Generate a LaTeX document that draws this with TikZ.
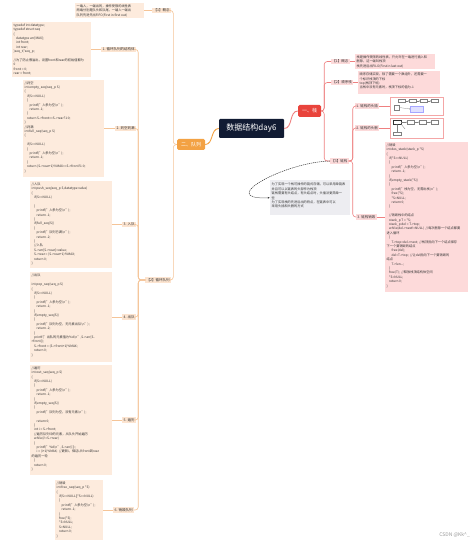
\documentclass[tikz,border=0pt]{standalone}
\usepackage{fontspec}
\setmainfont{Noto Sans CJK SC}
\usetikzlibrary{arrows.meta}
\definecolor{navy}{HTML}{111B33}
\definecolor{qorange}{HTML}{F3A244}
\definecolor{qline}{HTML}{F5C497}
\definecolor{qfill}{HTML}{FDEBDD}
\definecolor{qlabc}{HTML}{FCE4D0}
\definecolor{sred}{HTML}{E9443C}
\definecolor{sline}{HTML}{EF8080}
\definecolor{sfill}{HTML}{FDDADA}
\definecolor{slabc}{HTML}{FCDADA}
\definecolor{gnote}{HTML}{EDEDF1}
\definecolor{txt}{HTML}{333333}
\newcommand\cnl{\textbackslash n}
\newcommand\cia{\hspace*{2.5pt}}
\newcommand\cib{\hspace*{5pt}}
\tikzset{
  lab/.style={font=\fontsize{3.5}{4}\selectfont, text=txt, inner xsep=1.2pt, inner ysep=1pt},
  qlabel/.style={lab, fill=qlabc},
  slabel/.style={lab, fill=slabc},
  boxbase/.style={anchor=north west, inner sep=0pt},
  qbox/.style={boxbase, fill=qfill},
  sbox/.style={boxbase, fill=sfill},
  gbox/.style={boxbase, fill=gnote},
  imgbox/.style={boxbase, draw=sline!70, fill=white, line width=0.4pt},
  codetext/.style={anchor=north west, inner sep=0pt, align=left, text=txt, font=\fontsize{3.2}{4.4}\selectfont},
  qconn/.style={draw=qline, line width=0.6pt, rounded corners=3pt},
  sconn/.style={draw=sline, line width=0.6pt, rounded corners=3pt},
  qstraight/.style={draw=qline, line width=0.5pt},
  sstraight/.style={draw=sline, line width=0.5pt},
  centerbox/.style={fill=navy, text=white, font=\fontsize{8}{9}\selectfont, minimum width=65, minimum height=19, inner sep=0pt, rounded corners=1pt},
  mainbox/.style={text=white, font=\fontsize{5}{6}\selectfont, inner sep=0pt, rounded corners=1.5pt},
  pic/.style={line width=0.3pt, draw=gray},
  picarrow/.style={-{Stealth[length=1pt,width=1pt]}, line width=0.25pt, draw=gray}
}
\begin{document}
\begin{tikzpicture}[x=1pt,y=-1pt]
\fill[white] (0,0) rectangle (474,545);
\useasboundingbox (0,0) rectangle (474,545);

% ---------- main nodes ----------
\node[centerbox] (center) at (251.5,128.5) {数据结构day6};
\node[mainbox, fill=sred, minimum width=23, minimum height=12] (stack) at (309.5,111) {一、栈};
\node[mainbox, fill=qorange, minimum width=28, minimum height=11] (queue) at (191,144.5) {二、队列};

\draw[draw=sline, line width=0.9pt] (center.east) to[out=0,in=180] (stack.west);
\draw[draw=qorange, line width=0.9pt] (center.west) to[out=180,in=0] (queue.east);

% ---------- right side: stack ----------
\node[slabel, anchor=west] (s1) at (331,61.5) {【1】概念};
\node[slabel, anchor=west] (s2) at (331,82.5) {【2】顺序栈};
\node[slabel, anchor=west] (s3) at (330,161) {【3】链栈};
\node[slabel, anchor=west] (l1) at (355,106) {1. 链栈的头插};
\node[slabel, anchor=west] (l2) at (355,128) {2. 链栈的头删};
\node[slabel, anchor=west] (l3) at (356,217) {3. 链栈销毁};

\draw[sconn] (stack.east) -- ++(3,0) |- (s1.west);
\draw[sconn] (stack.east) -- ++(3,0) |- (s2.west);
\draw[sconn] (stack.east) -- ++(3,0) |- (s3.west);
\draw[sconn] (s3.east) -- ++(4,0) |- (l1.west);
\draw[sconn] (s3.east) -- ++(4,0) |- (l2.west);
\draw[sconn] (s3.east) -- ++(4,0) |- (l3.west);

\node[sbox, minimum width=80, minimum height=15] (snote1) at (355,54) {};
\node[codetext] (snote1T) at ([shift={(1.5,1.5)}]snote1.north west) {栈是操作受限的线性表，只允许在一端进行插入和\\删除，这一端叫栈顶\\栈先进后出FILO(First in last out)};
\node[sbox, minimum width=82, minimum height=23] (snote2) at (358,71) {};
\node[codetext] (snote2T) at ([shift={(1.5,1.8)}]snote2.north west) {顺序存储实现，除了需要一个数组外，还需要一\\个标识栈顶的下标\\top(栈顶下标)\\当栈中没有元素时，栈顶下标的值为-1};
\draw[sstraight] (s1.east) -- (s1.east -| snote1.west);
\draw[sstraight] (s2.east) -- (s2.east -| snote2.west);

\node[imgbox, minimum width=53, minimum height=18] (img1) at (390,97) {};
\node[imgbox, minimum width=53, minimum height=20] (img2) at (390,118) {};
\draw[sstraight] (l1.east) -- (l1.east -| img1.west);
\draw[sstraight] (l2.east) -- (l2.east -| img2.west);

% picture 1
\draw[pic] (398,99.5) rectangle (405,102.5);
\foreach \x in {409,420,431} \draw[pic] (\x,99.5) rectangle ++(7,3);
\foreach \x in {405,416,427} \draw[picarrow] (\x,101) -- ++(4,0);
\fill[blue!12] (410,106) rectangle (423,112);
\draw[pic, draw=blue!35] (410,106) rectangle (423,112);
\draw[pic] (394,105) rectangle (399,110);
\draw[picarrow] (399,107.5) -- (410,109);
% picture 2
\draw[line width=0.5pt, draw=txt] (393,120.5) rectangle (401,124);
\foreach \x in {407,419,431} \draw[pic] (\x,120.5) rectangle ++(7,3.5);
\foreach \x/\y in {401/407,414/419,426/431} \draw[picarrow] (\x,122.2) -- (\y,122.2);
\draw[pic] (393,132) rectangle (401,135.5);
\draw[picarrow] (397,132) -- (397,124);
\draw[pic] (401,124) -- (405,129);

\node[sbox, minimum width=83, minimum height=150] (sdes) at (385,142) {};
\node[codetext] (sdesT) at ([shift={(1.5,1.5)}]sdes.north west) {//销毁\\
int des\_stack(stack\_p *S)\\
\{\\
\cia if(*S==NULL)\\
\cia \{\\
\cib printf("入参为空\cnl");\\
\cib return -1;\\
\cia \}\\
\cia if(empty\_stack(*S))\\
\cia \{\\
\cib printf("栈为空，无需出栈\cnl");\\
\cib free(*S);\\
\cib *S=NULL;\\
\cib return 0;\\
\cia \}\\
\mbox{}\\
\cia //销毁栈中的结点\\
\cia stack\_p T = *S;\\
\cia stack\_p del = T->top;\\
\cia while(del->next!=NULL)\ \ //每次删除一个结点都要\\
进入循环\\
\cia \{\\
\cib T->top=del->next;\ \ //栈顶指向下一个结点保存\\
下一个要销毁的结点\\
\cib free(del);\\
\cib del=T->top;\ \ //让del指向下一个要销毁的\\
结点\\
\cib T->len-{}-;\\
\cia \}\\
\cia free(T);\ \ //释放栈顶结构体空间\\
\cia *S=NULL;\\
\cia return 0;\\
\}};
\draw[sstraight] (l3.east) -- (l3.east -| sdes.west);

\node[gbox, minimum width=80, minimum height=35] (gnoteB) at (270,180) {};
\node[codetext] (gnoteT) at ([shift={(1.5,3)}]gnoteB.north west) {为了实现一个栈可操作的链式存储，可以采用单链表\\并且可以以链表的头部作为栈顶\\链栈需要有头结点，有头结点时，头插法更简单一\\些\\为了实现栈的先进后出的特点，在链表中可以\\采用头插和头删的方式};
\draw[draw=txt, line width=0.5pt, dash pattern=on 1.2pt off 0.8pt, -{Latex[length=2.2pt,width=1.8pt]}] (s3.west) .. controls (285,162) and (215,200) .. (gnoteB.west);

% ---------- left side: queue ----------
\node[qlabel, anchor=east] (q1) at (171,10.5) {【1】概念};
\node[qlabel, anchor=east] (q2) at (171,280) {【2】循环队列};
\draw[qconn] (queue.west) -- ++(-3.5,0) |- (q1.east);
\draw[qconn] (queue.west) -- ++(-3.5,0) |- (q2.east);

\node[qbox, minimum width=69, minimum height=15] (qnote) at (75,3) {};
\node[codetext] (qnoteT) at ([shift={(1.5,1.5)}]qnote.north west) {一端入，一端出的，操作受限的线性表\\两端分别是队头和队尾，一端入一端出\\队列先进先出FIFO(First in first out)};
\draw[qstraight] (q1.west) -- (q1.west -| qnote.east);

\node[qlabel, anchor=east] (c1) at (136,49.5) {1. 循环队列的结构体};
\node[qlabel, anchor=east] (c2) at (136,128.5) {2. 判空判满};
\node[qlabel, anchor=east] (c3) at (136,224.5) {3. 入队};
\node[qlabel, anchor=east] (c4) at (136,317) {4. 出队};
\node[qlabel, anchor=east] (c5) at (136,420) {5. 遍历};
\node[qlabel, anchor=east] (c6) at (134,510) {6. 销毁队列};
\foreach \c in {c1,c2,c3,c4,c5,c6} \draw[qconn] (q2.west) -- ++(-7,0) |- (\c.east);

\node[qbox, minimum width=79, minimum height=55] (bstruct) at (12,22) {};
\node[codetext] (bstructT) at ([shift={(1.5,1.5)}]bstruct.north west) {typedef int datatype;\\
typedef struct seq\\
\{\\
\cia datatype arr[MAX];\\
\cia int front;\\
\cia int rear;\\
\}seq\_t,*seq\_p;\\
\mbox{}\\
//为了防止假溢出，设置front和rear的初始值都为\\
0\\
front = 0;\\
rear = front;};

\node[qbox, minimum width=81, minimum height=97] (bjudge) at (23,80) {};
\node[codetext] (bjudgeT) at ([shift={(1.5,1.2)}]bjudge.north west) {//判空\\
int empty\_seq(seq\_p S)\\
\{\\
\cia if(S==NULL)\\
\cia \{\\
\cib printf("入参为空\cnl");\\
\cib return -1;\\
\cia \}\\
\cia return S->front==S->rear?1:0;\\
\}\\
//判满\\
int full\_seq(seq\_p S)\\
\{\\
\mbox{}\\
\cia if(S==NULL)\\
\cia \{\\
\cib printf("入参为空\cnl");\\
\cib return -1;\\
\cia \}\\
\cia return (S->rear+1)\%MAX==S->front?1:0;\\
\}};

\node[qbox, minimum width=82, minimum height=87] (bpush) at (30,181) {};
\node[codetext] (bpushT) at ([shift={(1.5,1.5)}]bpush.north west) {//入队\\
int push\_seq(seq\_p S,datatype value)\\
\{\\
\cia if(S==NULL)\\
\mbox{}\\
\cia \{\\
\cib printf("入参为空\cnl");\\
\cib return -1;\\
\cia \}\\
\cia if(full\_seq(S))\\
\cia \{\\
\cib printf("队列已满\cnl");\\
\cib return -2;\\
\cia \}\\
\cia //入队\\
\cia S->arr[S->rear]=value;\\
\cia S->rear = (S->rear+1)\%MAX;\\
\cia return 0;\\
\}};

\node[qbox, minimum width=82, minimum height=90] (bpop) at (30,272) {};
\node[codetext] (bpopT) at ([shift={(1.5,2)}]bpop.north west) {//出队\\
\mbox{}\\
int pop\_seq(seq\_p S)\\
\{\\
\cia if(S==NULL)\\
\cia \{\\
\cib printf("入参为空\cnl");\\
\cib return -1;\\
\cia \}\\
\cia if(empty\_seq(S))\\
\cia \{\\
\cib printf("队列为空，无元素出队\cnl");\\
\cib return -2;\\
\cia \}\\
\cia printf("出队的元素值为\%d\cnl",S->arr[S-\\
>front]);\\
\cia S->front = (S->front+1)\%MAX;\\
\cia return 0;\\
\}};

\node[qbox, minimum width=82, minimum height=110] (bout) at (30,365) {};
\node[codetext] (boutT) at ([shift={(1.5,1.5)}]bout.north west) {//遍历\\
int out\_seq(seq\_p S)\\
\{\\
\cia if(S==NULL)\\
\cia \{\\
\cib printf("入参为空\cnl");\\
\cib return -1;\\
\cia \}\\
\cia if(empty\_seq(S))\\
\cia \{\\
\cib printf("队列为空，没有元素\cnl");\\
\mbox{}\\
\cib return 0;\\
\cia \}\\
\cia int i = S->front;\\
\cia //遍历队列中的元素，从队头开始遍历\\
\cia while(i!=S->rear)\\
\cia \{\\
\cib printf("\%d\cnl",S->arr[i]);\\
\cib i = (i+1)\%MAX;\ \ //更新i，保证i从front到rear\\
的遍历一轮\\
\cia \}\\
\cia return 0;\\
\}};

\node[qbox, minimum width=48, minimum height=60] (bfree) at (55,480) {};
\node[codetext] (bfreeT) at ([shift={(1.5,1.5)}]bfree.north west) {//销毁\\
int free\_seq(seq\_p *S)\\
\{\\
\cia if(S==NULL||*S==NULL)\\
\cia \{\\
\cib printf("入参为空\cnl");\\
\cib return -1;\\
\cia \}\\
\cia free(*S);\\
\cia *S=NULL;\\
\cia S=NULL;\\
\cia return 0;\\
\}};

\draw[qstraight] (c1.west) -- (c1.west -| bstruct.east);
\draw[qstraight] (c2.west) -- (c2.west -| bjudge.east);
\draw[qstraight] (c3.west) -- (c3.west -| bpush.east);
\draw[qstraight] (c4.west) -- (c4.west -| bpop.east);
\draw[qstraight] (c5.west) -- (c5.west -| bout.east);
\draw[qstraight] (c6.west) -- (c6.west -| bfree.east);

\node[anchor=east, inner sep=0pt, font=\fontsize{5}{6}\selectfont, text=gray!80] (wm) at (470,535) {CSDN @Kk\textasciicircum\_};
\end{tikzpicture}
\end{document}
